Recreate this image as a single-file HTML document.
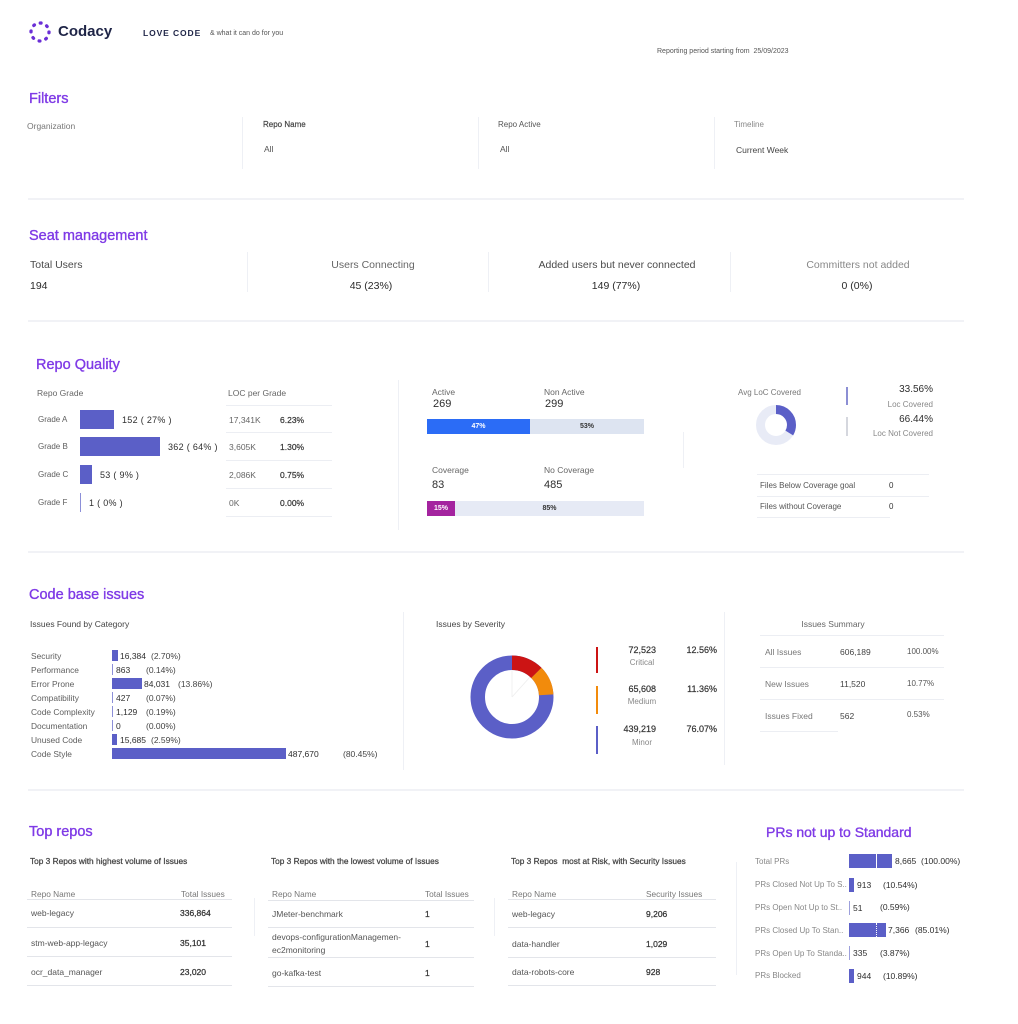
<!DOCTYPE html>
<html><head><meta charset="utf-8">
<style>
html,body{margin:0;padding:0;background:#fff;}
body{width:1018px;height:1024px;position:relative;overflow:hidden;font-family:"Liberation Sans",sans-serif;}
.t{position:absolute;white-space:nowrap;line-height:1;}
.h{position:absolute;white-space:nowrap;line-height:1;color:#7f3ae6;font-size:14.5px;-webkit-text-stroke:0.35px #7f3ae6;}
.ln{position:absolute;background:#eceef3;}
.vl{position:absolute;background:#eef0f5;width:1px;}
.bar{position:absolute;background:#5b5fc7;}
.g8{font-size:8px;color:#5e5e5e;}
.d8{font-size:8.5px;color:#2e2e2e;}
</style></head><body>

<!-- Header -->
<svg style="position:absolute;left:28px;top:20px" width="24" height="24" viewBox="0 0 24 24">
<circle cx="12" cy="12" r="9" fill="none" stroke="#6b2fd6" stroke-width="3.3" stroke-dasharray="0.8 6.27" stroke-linecap="round"/>
</svg>
<div class="t" style="left:58px;top:24px;font-size:15px;font-weight:bold;color:#1f2547;">Codacy</div>
<div class="t" style="left:143px;top:29px;font-size:8.5px;font-weight:bold;color:#1f2547;letter-spacing:0.9px;">LOVE CODE</div>
<div class="t" style="left:210px;top:29.5px;font-size:7px;color:#555;">&amp; what it can do for you</div>
<div class="t" style="left:657px;top:47.5px;font-size:7px;color:#555;">Reporting period starting from&nbsp; 25/09/2023</div>

<!-- Filters -->
<div class="h" style="left:29px;top:92px;">Filters</div>
<div class="t" style="left:27px;top:121.5px;font-size:8.5px;color:#777;">Organization</div>
<div class="vl" style="left:242px;top:117px;height:52px;"></div>
<div class="vl" style="left:478px;top:117px;height:52px;"></div>
<div class="vl" style="left:714px;top:117px;height:52px;"></div>
<div class="t" style="left:263px;top:121px;font-size:8px;color:#444;-webkit-text-stroke:0.2px #444;">Repo Name</div>
<div class="t" style="left:264px;top:145px;font-size:8.5px;color:#555;">All</div>
<div class="t" style="left:498px;top:121px;font-size:8px;color:#555;">Repo Active</div>
<div class="t" style="left:500px;top:145px;font-size:8.5px;color:#555;">All</div>
<div class="t" style="left:734px;top:121px;font-size:8px;color:#888;">Timeline</div>
<div class="t" style="left:736px;top:145.5px;font-size:8.5px;color:#444;">Current Week</div>
<div class="ln" style="left:28px;top:198px;width:936px;height:2px;background:#f1f2f6;"></div>

<!-- Seat management -->
<div class="h" style="left:29px;top:229px;">Seat management</div>
<div class="vl" style="left:247px;top:252px;height:40px;"></div>
<div class="vl" style="left:488px;top:252px;height:40px;"></div>
<div class="vl" style="left:730px;top:252px;height:40px;"></div>
<div class="t" style="left:30px;top:260px;font-size:10.5px;color:#4a4a4a;">Total Users</div>
<div class="t" style="left:30px;top:281px;font-size:10.5px;color:#2a2a2a;">194</div>
<div class="t" style="left:273px;width:200px;text-align:center;top:260px;font-size:10.5px;color:#666;">Users Connecting</div>
<div class="t" style="left:271px;width:200px;text-align:center;top:281px;font-size:10.5px;color:#2a2a2a;">45 (23%)</div>
<div class="t" style="left:517px;width:200px;text-align:center;top:260px;font-size:10.5px;color:#4a4a4a;">Added users but never connected</div>
<div class="t" style="left:516px;width:200px;text-align:center;top:281px;font-size:10.5px;color:#2a2a2a;">149 (77%)</div>
<div class="t" style="left:758px;width:200px;text-align:center;top:260px;font-size:10.5px;color:#888;">Committers not added</div>
<div class="t" style="left:757px;width:200px;text-align:center;top:281px;font-size:10.5px;color:#2a2a2a;">0 (0%)</div>
<div class="ln" style="left:28px;top:320px;width:936px;height:2px;background:#f1f2f6;"></div>

<!-- Repo Quality -->
<div class="h" style="left:36px;top:358px;">Repo Quality</div>
<div class="t" style="left:37px;top:389px;font-size:8.5px;color:#666;">Repo Grade</div>
<div class="t" style="left:228px;top:389px;font-size:8.5px;color:#666;">LOC per Grade</div>

<div class="t g8" style="left:38px;top:416px;">Grade A</div>
<div class="t g8" style="left:38px;top:443px;">Grade B</div>
<div class="t g8" style="left:38px;top:471px;">Grade C</div>
<div class="t g8" style="left:38px;top:499px;">Grade F</div>
<div class="bar" style="left:80px;top:410px;width:34px;height:19px;"></div>
<div class="bar" style="left:80px;top:437px;width:80px;height:19px;"></div>
<div class="bar" style="left:80px;top:465px;width:12px;height:19px;"></div>
<div class="bar" style="left:80px;top:493px;width:1px;height:19px;background:#8c8fd8;"></div>
<div class="t" style="left:122px;top:415.5px;font-size:9px;color:#2e2e2e;letter-spacing:0.3px;">152 ( 27% )</div>
<div class="t" style="left:168px;top:442.5px;font-size:9px;color:#2e2e2e;letter-spacing:0.3px;">362 ( 64% )</div>
<div class="t" style="left:100px;top:470.5px;font-size:9px;color:#2e2e2e;letter-spacing:0.3px;">53 ( 9% )</div>
<div class="t" style="left:89px;top:498.5px;font-size:9px;color:#2e2e2e;letter-spacing:0.3px;">1 ( 0% )</div>

<div class="ln" style="left:226px;top:405px;width:106px;height:1px;"></div>
<div class="ln" style="left:226px;top:432px;width:106px;height:1px;"></div>
<div class="ln" style="left:226px;top:460px;width:106px;height:1px;"></div>
<div class="ln" style="left:226px;top:488px;width:106px;height:1px;"></div>
<div class="ln" style="left:226px;top:516px;width:106px;height:1px;"></div>
<div class="t" style="left:229px;top:415.5px;font-size:8.5px;color:#666;">17,341K</div>
<div class="t" style="left:229px;top:443px;font-size:8.5px;color:#666;">3,605K</div>
<div class="t" style="left:229px;top:471px;font-size:8.5px;color:#666;">2,086K</div>
<div class="t" style="left:229px;top:498.5px;font-size:8.5px;color:#666;">0K</div>
<div class="t" style="left:280px;top:415.5px;font-size:8.5px;color:#333;-webkit-text-stroke:0.2px #333;">6.23%</div>
<div class="t" style="left:280px;top:443px;font-size:8.5px;color:#333;-webkit-text-stroke:0.2px #333;">1.30%</div>
<div class="t" style="left:280px;top:471px;font-size:8.5px;color:#333;-webkit-text-stroke:0.2px #333;">0.75%</div>
<div class="t" style="left:280px;top:498.5px;font-size:8.5px;color:#333;-webkit-text-stroke:0.2px #333;">0.00%</div>

<div class="vl" style="left:398px;top:380px;height:150px;"></div>
<div class="t" style="left:432px;top:388px;font-size:8.5px;color:#666;">Active</div>
<div class="t" style="left:544px;top:388px;font-size:8.5px;color:#666;">Non Active</div>
<div class="t" style="left:433px;top:398.5px;font-size:11px;color:#2e2e2e;">269</div>
<div class="t" style="left:545px;top:398.5px;font-size:11px;color:#2e2e2e;">299</div>
<div style="position:absolute;left:427px;top:419px;width:103px;height:15px;background:#2b6cf6;"></div>
<div style="position:absolute;left:530px;top:419px;width:114px;height:15px;background:#dde4f1;"></div>
<div class="t" style="left:427px;width:103px;text-align:center;top:423px;font-size:7px;color:#fff;font-weight:bold;">47%</div>
<div class="t" style="left:530px;width:114px;text-align:center;top:423px;font-size:7px;color:#333;font-weight:bold;">53%</div>

<div class="t" style="left:432px;top:466px;font-size:8.5px;color:#666;">Coverage</div>
<div class="t" style="left:544px;top:466px;font-size:8.5px;color:#666;">No Coverage</div>
<div class="t" style="left:432px;top:479.5px;font-size:11px;color:#2e2e2e;">83</div>
<div class="t" style="left:544px;top:479.5px;font-size:11px;color:#2e2e2e;">485</div>
<div style="position:absolute;left:427px;top:501px;width:28px;height:15px;background:#a4249f;"></div>
<div style="position:absolute;left:455px;top:501px;width:189px;height:15px;background:#e6eaf5;"></div>
<div class="t" style="left:427px;width:28px;text-align:center;top:505px;font-size:7px;color:#fff;font-weight:bold;">15%</div>
<div class="t" style="left:455px;width:189px;text-align:center;top:505px;font-size:7px;color:#333;font-weight:bold;">85%</div>

<div class="vl" style="left:683px;top:432px;height:36px;"></div>

<div class="t" style="left:738px;top:389px;font-size:8px;color:#777;">Avg LoC Covered</div>
<svg style="position:absolute;left:752px;top:401px" width="48" height="48" viewBox="0 0 48 48">
<circle cx="24" cy="24" r="15.5" fill="none" stroke="#e8ebf6" stroke-width="9"/>
<circle cx="24" cy="24" r="15.5" fill="none" stroke="#5b5fc7" stroke-width="9" stroke-dasharray="32.7 200" transform="rotate(-90 24 24)"/>
</svg>
<div style="position:absolute;left:846px;top:387px;width:2px;height:18px;background:#8c8fd4;"></div>
<div style="position:absolute;left:846px;top:417px;width:2px;height:19px;background:#d5d7de;"></div>
<div class="t" style="left:833px;width:100px;text-align:right;top:385px;font-size:10px;color:#2e2e2e;">33.56%</div>
<div class="t" style="left:833px;width:100px;text-align:right;top:401px;font-size:8px;color:#888;">Loc Covered</div>
<div class="t" style="left:833px;width:100px;text-align:right;top:415px;font-size:10px;color:#2e2e2e;">66.44%</div>
<div class="t" style="left:833px;width:100px;text-align:right;top:430px;font-size:8px;color:#888;">Loc Not Covered</div>
<div class="ln" style="left:757px;top:474px;width:172px;height:1px;"></div>
<div class="ln" style="left:757px;top:496px;width:172px;height:1px;"></div>
<div class="ln" style="left:757px;top:517px;width:133px;height:1px;"></div>
<div class="t" style="left:760px;top:482px;font-size:8px;color:#555;">Files Below Coverage goal</div>
<div class="t" style="left:889px;top:482px;font-size:8px;color:#333;">0</div>
<div class="t" style="left:760px;top:503px;font-size:8px;color:#555;">Files without Coverage</div>
<div class="t" style="left:889px;top:503px;font-size:8px;color:#333;">0</div>
<div class="ln" style="left:28px;top:551px;width:936px;height:2px;background:#f1f2f6;"></div>

<!-- Code base issues -->
<div class="h" style="left:29px;top:588px;">Code base issues</div>
<div class="t" style="left:30px;top:620px;font-size:8.5px;color:#444;">Issues Found by Category</div>

<div class="t g8" style="left:31px;top:652px;font-size:8.4px;">Security</div>
<div class="t g8" style="left:31px;top:666px;font-size:8.4px;">Performance</div>
<div class="t g8" style="left:31px;top:680px;font-size:8.4px;">Error Prone</div>
<div class="t g8" style="left:31px;top:694px;font-size:8.4px;">Compatibility</div>
<div class="t g8" style="left:31px;top:708px;font-size:8.4px;">Code Complexity</div>
<div class="t g8" style="left:31px;top:722px;font-size:8.4px;">Documentation</div>
<div class="t g8" style="left:31px;top:736px;font-size:8.4px;">Unused Code</div>
<div class="t g8" style="left:31px;top:750px;font-size:8.4px;">Code Style</div>

<div class="bar" style="left:112px;top:650px;width:6px;height:11px;"></div>
<div class="bar" style="left:112px;top:664px;width:1px;height:11px;background:#8c8fd8;"></div>
<div class="bar" style="left:112px;top:678px;width:30px;height:11px;"></div>
<div class="bar" style="left:112px;top:692px;width:1px;height:11px;background:#8c8fd8;"></div>
<div class="bar" style="left:112px;top:706px;width:1px;height:11px;background:#8c8fd8;"></div>
<div class="bar" style="left:112px;top:720px;width:1px;height:11px;background:#8c8fd8;"></div>
<div class="bar" style="left:112px;top:734px;width:5px;height:11px;"></div>
<div class="bar" style="left:112px;top:748px;width:174px;height:11px;"></div>

<div class="t d8" style="left:120px;top:651.5px;">16,384</div><div class="t d8" style="left:151px;top:651.5px;color:#444;">(2.70%)</div>
<div class="t d8" style="left:116px;top:665.5px;">863</div><div class="t d8" style="left:146px;top:665.5px;color:#444;">(0.14%)</div>
<div class="t d8" style="left:144px;top:679.5px;">84,031</div><div class="t d8" style="left:178px;top:679.5px;color:#444;">(13.86%)</div>
<div class="t d8" style="left:116px;top:694px;">427</div><div class="t d8" style="left:146px;top:694px;color:#444;">(0.07%)</div>
<div class="t d8" style="left:116px;top:707.5px;">1,129</div><div class="t d8" style="left:146px;top:707.5px;color:#444;">(0.19%)</div>
<div class="t d8" style="left:116px;top:722px;">0</div><div class="t d8" style="left:146px;top:722px;color:#444;">(0.00%)</div>
<div class="t d8" style="left:120px;top:736px;">15,685</div><div class="t d8" style="left:151px;top:736px;color:#444;">(2.59%)</div>
<div class="t d8" style="left:288px;top:750px;">487,670</div><div class="t d8" style="left:343px;top:750px;color:#444;">(80.45%)</div>

<div class="vl" style="left:403px;top:612px;height:158px;"></div>
<div class="t" style="left:436px;top:620px;font-size:8.5px;color:#444;">Issues by Severity</div>
<svg style="position:absolute;left:462px;top:647px" width="100" height="100" viewBox="0 0 100 100">
<line x1="50" y1="50" x2="50" y2="23" stroke="#eee" stroke-width="0.8"/>
<line x1="50" y1="50" x2="68" y2="30" stroke="#eee" stroke-width="0.8"/>
<circle cx="50" cy="50" r="34.25" fill="none" stroke="#5b5fc7" stroke-width="14.5"/>
<circle cx="50" cy="50" r="34.25" fill="none" stroke="#cc1414" stroke-width="14.5" stroke-dasharray="27.03 300" transform="rotate(-90 50 50)"/>
<circle cx="50" cy="50" r="34.25" fill="none" stroke="#f28b0c" stroke-width="14.5" stroke-dasharray="0 27.03 24.45 300" transform="rotate(-90 50 50)"/>
</svg>
<div style="position:absolute;left:596px;top:647px;width:2px;height:26px;background:#cc1414;"></div>
<div style="position:absolute;left:596px;top:686px;width:2px;height:28px;background:#f28b0c;"></div>
<div style="position:absolute;left:596px;top:726px;width:2px;height:28px;background:#5b5fc7;"></div>
<div class="t" style="left:556px;width:100px;text-align:right;top:645.5px;font-size:9px;color:#333;-webkit-text-stroke:0.2px #333;">72,523</div>
<div class="t" style="left:592px;width:100px;text-align:center;top:659px;font-size:8px;color:#888;">Critical</div>
<div class="t" style="left:617px;width:100px;text-align:right;top:645.5px;font-size:9px;color:#333;-webkit-text-stroke:0.2px #333;">12.56%</div>
<div class="t" style="left:556px;width:100px;text-align:right;top:684.5px;font-size:9px;color:#333;-webkit-text-stroke:0.2px #333;">65,608</div>
<div class="t" style="left:592px;width:100px;text-align:center;top:698px;font-size:8px;color:#888;">Medium</div>
<div class="t" style="left:617px;width:100px;text-align:right;top:684.5px;font-size:9px;color:#333;-webkit-text-stroke:0.2px #333;">11.36%</div>
<div class="t" style="left:556px;width:100px;text-align:right;top:724.5px;font-size:9px;color:#333;-webkit-text-stroke:0.2px #333;">439,219</div>
<div class="t" style="left:592px;width:100px;text-align:center;top:739px;font-size:8px;color:#888;">Minor</div>
<div class="t" style="left:617px;width:100px;text-align:right;top:724.5px;font-size:9px;color:#333;-webkit-text-stroke:0.2px #333;">76.07%</div>

<div class="vl" style="left:724px;top:612px;height:153px;"></div>
<div class="t" style="left:783px;width:100px;text-align:center;top:620px;font-size:8.5px;color:#666;">Issues Summary</div>
<div class="ln" style="left:760px;top:635px;width:184px;height:1px;"></div>
<div class="ln" style="left:760px;top:667px;width:184px;height:1px;"></div>
<div class="ln" style="left:760px;top:699px;width:184px;height:1px;"></div>
<div class="ln" style="left:760px;top:731px;width:78px;height:1px;"></div>
<div class="t" style="left:765px;top:648px;font-size:8.5px;color:#777;">All Issues</div>
<div class="t" style="left:840px;top:648px;font-size:8.5px;color:#444;">606,189</div>
<div class="t" style="left:907px;top:648px;font-size:8px;color:#555;">100.00%</div>
<div class="t" style="left:765px;top:680px;font-size:8.5px;color:#777;">New Issues</div>
<div class="t" style="left:840px;top:680px;font-size:8.5px;color:#444;">11,520</div>
<div class="t" style="left:907px;top:680px;font-size:8px;color:#555;">10.77%</div>
<div class="t" style="left:765px;top:712px;font-size:8.5px;color:#777;">Issues Fixed</div>
<div class="t" style="left:840px;top:712px;font-size:8.5px;color:#444;">562</div>
<div class="t" style="left:907px;top:711px;font-size:8px;color:#555;">0.53%</div>
<div class="ln" style="left:28px;top:789px;width:936px;height:2px;background:#f1f2f6;"></div>

<!-- Top repos -->
<div class="h" style="left:29px;top:825px;">Top repos</div>
<div class="t" style="left:30px;top:857px;font-size:8.3px;color:#444;-webkit-text-stroke:0.25px #444;">Top 3 Repos with highest volume of Issues</div>
<div class="t" style="left:31px;top:889.5px;font-size:8.3px;color:#777;">Repo Name</div>
<div class="t" style="left:181px;top:889.5px;font-size:8.3px;color:#777;">Total Issues</div>
<div class="ln" style="left:27px;top:899px;width:205px;height:1px;background:#e3e5ea;"></div>
<div class="ln" style="left:27px;top:927px;width:205px;height:1px;background:#e3e5ea;"></div>
<div class="ln" style="left:27px;top:956px;width:205px;height:1px;background:#e3e5ea;"></div>
<div class="ln" style="left:27px;top:985px;width:205px;height:1px;background:#e3e5ea;"></div>
<div class="t" style="left:31px;top:909px;font-size:8.5px;color:#555;">web-legacy</div>
<div class="t" style="left:180px;top:909px;font-size:8.5px;color:#333;-webkit-text-stroke:0.25px #333;">336,864</div>
<div class="t" style="left:31px;top:939px;font-size:8.5px;color:#555;">stm-web-app-legacy</div>
<div class="t" style="left:180px;top:939px;font-size:8.5px;color:#333;-webkit-text-stroke:0.25px #333;">35,101</div>
<div class="t" style="left:31px;top:968px;font-size:8.5px;color:#555;">ocr_data_manager</div>
<div class="t" style="left:180px;top:968px;font-size:8.5px;color:#333;-webkit-text-stroke:0.25px #333;">23,020</div>

<div class="vl" style="left:254px;top:898px;height:38px;"></div>
<div class="t" style="left:271px;top:857px;font-size:8.3px;color:#444;-webkit-text-stroke:0.25px #444;">Top 3 Repos with the lowest volume of Issues</div>
<div class="t" style="left:272px;top:890px;font-size:8.3px;color:#777;">Repo Name</div>
<div class="t" style="left:425px;top:890px;font-size:8.3px;color:#777;">Total Issues</div>
<div class="ln" style="left:268px;top:900px;width:206px;height:1px;background:#e3e5ea;"></div>
<div class="ln" style="left:268px;top:927px;width:206px;height:1px;background:#e3e5ea;"></div>
<div class="ln" style="left:268px;top:957px;width:206px;height:1px;background:#e3e5ea;"></div>
<div class="ln" style="left:268px;top:986px;width:206px;height:1px;background:#e3e5ea;"></div>
<div class="t" style="left:272px;top:910px;font-size:8.5px;color:#555;">JMeter-benchmark</div>
<div class="t" style="left:425px;top:910px;font-size:8.5px;color:#333;-webkit-text-stroke:0.25px #333;">1</div>
<div class="t" style="left:272px;top:933px;font-size:8.5px;color:#555;">devops-configurationManagemen-</div>
<div class="t" style="left:272px;top:946px;font-size:8.5px;color:#555;">ec2monitoring</div>
<div class="t" style="left:425px;top:940px;font-size:8.5px;color:#333;-webkit-text-stroke:0.25px #333;">1</div>
<div class="t" style="left:272px;top:969px;font-size:8.5px;color:#555;">go-kafka-test</div>
<div class="t" style="left:425px;top:969px;font-size:8.5px;color:#333;-webkit-text-stroke:0.25px #333;">1</div>

<div class="vl" style="left:494px;top:898px;height:38px;"></div>
<div class="t" style="left:511px;top:857px;font-size:8.3px;color:#444;-webkit-text-stroke:0.25px #444;">Top 3 Repos&nbsp; most at Risk, with Security Issues</div>
<div class="t" style="left:512px;top:890px;font-size:8.3px;color:#777;">Repo Name</div>
<div class="t" style="left:646px;top:890px;font-size:8.3px;color:#777;">Security Issues</div>
<div class="ln" style="left:508px;top:899px;width:208px;height:1px;background:#e3e5ea;"></div>
<div class="ln" style="left:508px;top:927px;width:208px;height:1px;background:#e3e5ea;"></div>
<div class="ln" style="left:508px;top:957px;width:208px;height:1px;background:#e3e5ea;"></div>
<div class="ln" style="left:508px;top:985px;width:208px;height:1px;background:#e3e5ea;"></div>
<div class="t" style="left:512px;top:910px;font-size:8.5px;color:#555;">web-legacy</div>
<div class="t" style="left:646px;top:910px;font-size:8.5px;color:#333;-webkit-text-stroke:0.25px #333;">9,206</div>
<div class="t" style="left:512px;top:940px;font-size:8.5px;color:#555;">data-handler</div>
<div class="t" style="left:646px;top:940px;font-size:8.5px;color:#333;-webkit-text-stroke:0.25px #333;">1,029</div>
<div class="t" style="left:512px;top:968px;font-size:8.5px;color:#555;">data-robots-core</div>
<div class="t" style="left:646px;top:968px;font-size:8.5px;color:#333;-webkit-text-stroke:0.25px #333;">928</div>

<div class="vl" style="left:736px;top:862px;height:113px;"></div>

<!-- PRs -->
<div class="h" style="left:766px;top:825px;font-size:14px;">PRs not up to Standard</div>
<div class="t" style="left:755px;top:857.5px;font-size:8px;color:#888;">Total PRs</div>
<div class="t" style="left:755px;top:881px;font-size:8px;color:#888;">PRs Closed Not Up To S..</div>
<div class="t" style="left:755px;top:903.5px;font-size:8px;color:#888;">PRs Open Not Up to St..</div>
<div class="t" style="left:755px;top:926.5px;font-size:8px;color:#888;">PRs Closed Up To Stan..</div>
<div class="t" style="left:755px;top:949.5px;font-size:8px;color:#888;">PRs Open Up To Standa..</div>
<div class="t" style="left:755px;top:971.5px;font-size:8px;color:#888;">PRs Blocked</div>

<div class="bar" style="left:849px;top:854px;width:43px;height:14px;"></div>
<div style="position:absolute;left:876px;top:854px;width:1px;height:14px;background:#fff;"></div>
<div class="bar" style="left:849px;top:878px;width:5px;height:14px;"></div>
<div class="bar" style="left:849px;top:901px;width:1px;height:14px;background:#9c9fdc;"></div>
<div class="bar" style="left:849px;top:923px;width:37px;height:14px;"></div>
<div style="position:absolute;left:876px;top:923px;width:0;height:14px;border-left:1px dotted #fff;"></div>
<div class="bar" style="left:849px;top:946px;width:1px;height:14px;background:#9c9fdc;"></div>
<div class="bar" style="left:849px;top:969px;width:5px;height:14px;"></div>

<div class="t d8" style="left:895px;top:857px;">8,665</div><div class="t d8" style="left:921px;top:857px;">(100.00%)</div>
<div class="t d8" style="left:857px;top:880.5px;">913</div><div class="t d8" style="left:883px;top:880.5px;">(10.54%)</div>
<div class="t d8" style="left:853px;top:903.5px;">51</div><div class="t d8" style="left:880px;top:903px;">(0.59%)</div>
<div class="t d8" style="left:888px;top:926px;">7,366</div><div class="t d8" style="left:915px;top:926px;">(85.01%)</div>
<div class="t d8" style="left:853px;top:949px;">335</div><div class="t d8" style="left:880px;top:949px;">(3.87%)</div>
<div class="t d8" style="left:857px;top:971.5px;">944</div><div class="t d8" style="left:883px;top:971.5px;">(10.89%)</div>

</body></html>
